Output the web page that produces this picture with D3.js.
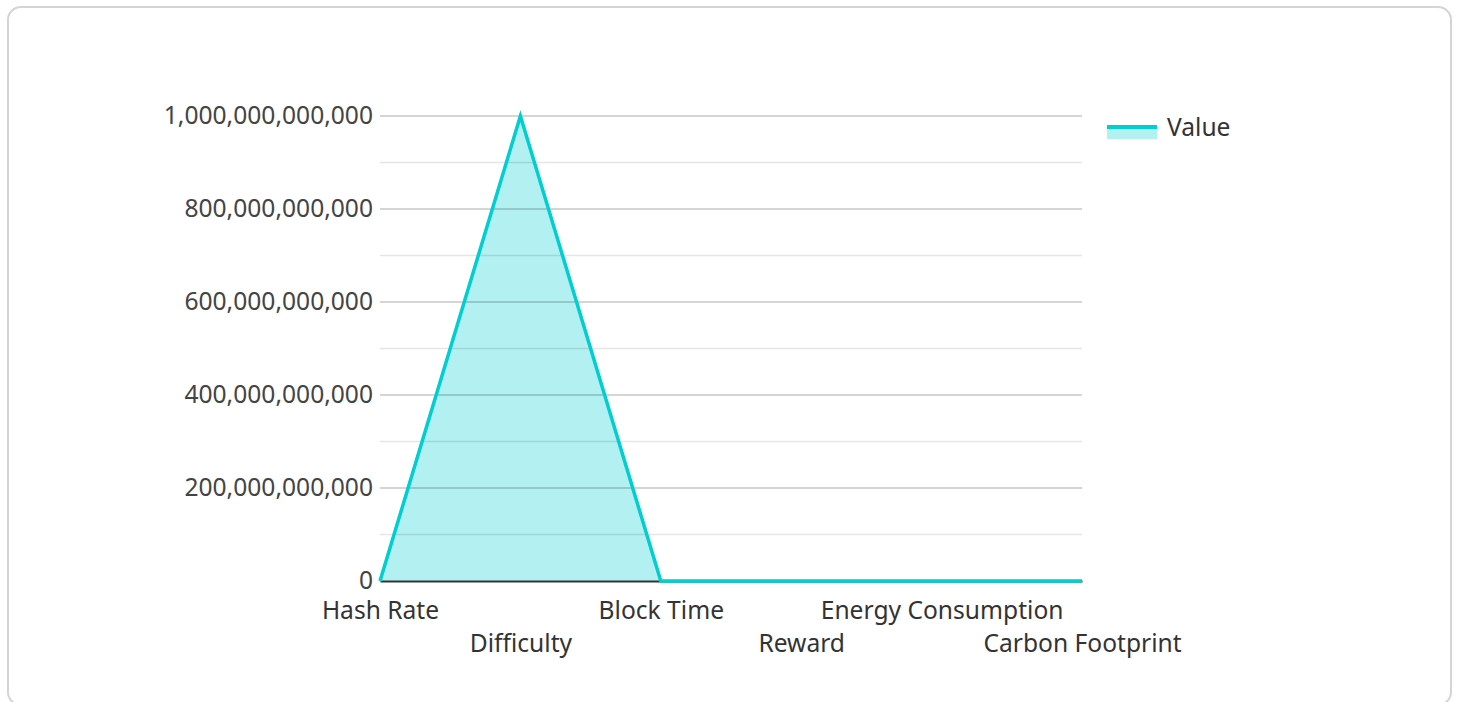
<!DOCTYPE html>
<html>
<head>
<meta charset="utf-8">
<script src="https://cdn.jsdelivr.net/npm/d3@7"></script>
<style>
body { margin:0; background:#fff; font-family:"Noto Sans", sans-serif; }
#card { position:absolute; left:7px; top:6px; width:1445px; height:700px; border:2px solid #d4d4d4; border-radius:14px; box-sizing:border-box; }
</style>
</head>
<body>
<div id="card"></div>
<svg id="chart" width="1458" height="702" style="position:absolute;left:0;top:0"></svg>
<script>
// metrics and their values
var categories = ["Hash Rate","Difficulty","Block Time","Reward","Energy Consumption","Carbon Footprint"];
var values = [180, 1000000000000, 10, 6.25, 120, 65];
var majorTicks = [0, 200000000000, 400000000000, 600000000000, 800000000000, 1000000000000];
var minorTicks = [100000000000, 300000000000, 500000000000, 700000000000, 900000000000];
var seriesName = "Value";

var data = categories.map(function(c,i){ return {name:c, value:values[i]}; });

var svg = d3.select("#chart");
var plotL = 380, plotR = 1082, plotT = 116, plotB = 581;
var fs = "24.6px";

var x = d3.scalePoint().domain(categories).range([plotL, plotR]);
var y = d3.scaleLinear().domain([0, 1000000000000]).range([plotB, plotT]);

var g = svg.append("g");

// area first, grid drawn over it
var area = d3.area().x(function(d){ return x(d.name); }).y0(plotB).y1(function(d){ return y(d.value); });
var line = d3.line().x(function(d){ return x(d.name); }).y(function(d){ return y(d.value); });

g.append("path").datum(data).attr("d", area).attr("fill", "#00ced1").attr("fill-opacity", 0.3);

// minor grid
g.selectAll("line.minor").data(minorTicks).enter().append("line")
    .attr("class","minor")
    .attr("x1", plotL).attr("x2", plotR)
    .attr("y1", function(d){ return y(d); }).attr("y2", function(d){ return y(d); })
    .attr("stroke", "#000").attr("stroke-opacity", 0.1).attr("stroke-width", 1.5);

// major grid
g.selectAll("line.major").data(majorTicks.slice(1)).enter().append("line")
    .attr("class","major")
    .attr("x1", plotL).attr("x2", plotR)
    .attr("y1", function(d){ return y(d); }).attr("y2", function(d){ return y(d); })
    .attr("stroke", "#000").attr("stroke-opacity", 0.22).attr("stroke-width", 1.5);

// y axis labels
var yAxis = g.append("g").attr("transform","translate(" + plotL + ",0)")
    .call(d3.axisLeft(y).tickValues(majorTicks).tickSize(0).tickPadding(7).tickFormat(d3.format(",.0f")));
yAxis.select(".domain").remove();
yAxis.selectAll("text").attr("font-family","Noto Sans").attr("font-size",fs).attr("fill","#444");

// x axis
var xAxis = g.append("g").attr("transform","translate(0," + plotB + ")")
    .call(d3.axisBottom(x).tickSize(0).tickPadding(0));
xAxis.select(".domain").attr("stroke","#333").attr("stroke-width",2);
xAxis.selectAll("text")
    .attr("font-family","Noto Sans").attr("font-size",fs).attr("fill","#333")
    .attr("y", function(d,i){ return i % 2 == 0 ? 38 : 71; })
    .attr("dy", 0);

g.append("path").datum(data).attr("d", line).attr("fill","none")
    .attr("stroke","#00ced1").attr("stroke-width",3.5).attr("stroke-linejoin","miter");

// legend
var lg = svg.append("g").attr("transform","translate(1107,125)");
lg.append("rect").attr("x",0).attr("y",0).attr("width",50).attr("height",14).attr("fill","#00ced1").attr("fill-opacity",0.3);
lg.append("line").attr("x1",0).attr("x2",50).attr("y1",2).attr("y2",2).attr("stroke","#00ced1").attr("stroke-width",4);
lg.append("text").attr("x",60).attr("y",11)
    .attr("font-family","Noto Sans").attr("font-size",fs).attr("fill","#333").text(seriesName);
</script>
</body>
</html>
